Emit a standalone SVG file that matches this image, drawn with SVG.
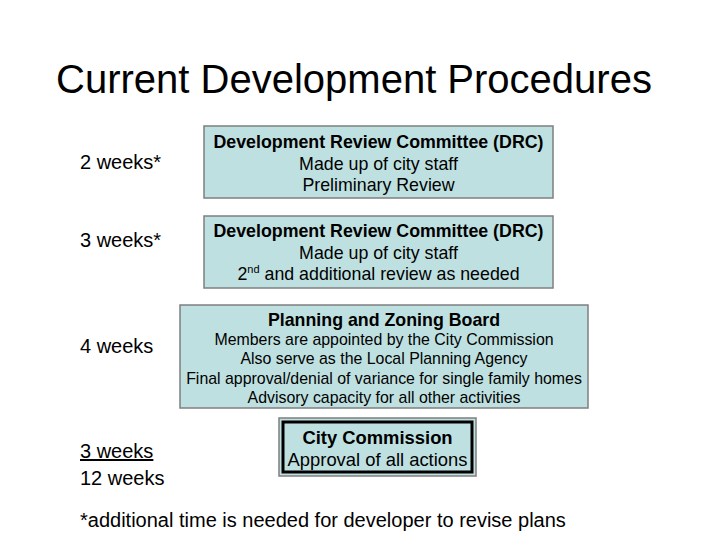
<svg xmlns="http://www.w3.org/2000/svg" width="720" height="540" viewBox="0 0 720 540">
<style>
text{font-family:"Liberation Sans",Arial,sans-serif;fill:#000}
.box{fill:#bfe0e1;stroke:#7f7f7f;stroke-width:1.5}
.lbl{font-size:20px}
.b{font-weight:bold}
.t{font-size:17.8px;text-anchor:middle}
.s{font-size:15.9px;text-anchor:middle}
</style>
<rect width="720" height="540" fill="#fff"/>
<text x="354" y="93" font-size="40" text-anchor="middle">Current Development Procedures</text>
<g id="labels">
<text class="lbl" x="80" y="169">2 weeks*</text>
<text class="lbl" x="80" y="247">3 weeks*</text>
<text class="lbl" x="80" y="353">4 weeks</text>
<text class="lbl" x="80" y="458" text-decoration="underline">3 weeks</text>
<text class="lbl" x="80" y="485">12 weeks</text>
<text class="lbl" x="80" y="527">*additional time is needed for developer to revise plans</text>
</g>
<g id="drc1">
<rect class="box" x="204" y="126" width="349" height="72"/>
<text class="t b" x="378.5" y="148">Development Review Committee (DRC)</text>
<text class="t" x="378.5" y="169.5">Made up of city staff</text>
<text class="t" x="378.5" y="190.5">Preliminary Review</text>
</g>
<g id="drc2">
<rect class="box" x="204" y="216" width="349" height="72"/>
<text class="t b" x="378.5" y="237">Development Review Committee (DRC)</text>
<text class="t" x="378.5" y="259">Made up of city staff</text>
<text class="t" x="378.5" y="280">2<tspan font-size="11" dy="-7">nd</tspan><tspan dy="7"> and additional review as needed</tspan></text>
</g>
<g id="pzb">
<rect class="box" x="180" y="305" width="408" height="103"/>
<text class="t b" x="384" y="325.5">Planning and Zoning Board</text>
<text class="s" x="384" y="344.5">Members are appointed by the City Commission</text>
<text class="s" x="384" y="364">Also serve as the Local Planning Agency</text>
<text class="s" x="384" y="383.5">Final approval/denial of variance for single family homes</text>
<text class="s" x="384" y="402.5">Advisory capacity for all other activities</text>
</g>
<g id="cc">
<rect x="279" y="418" width="197" height="58" fill="#bfe0e1" stroke="#7f7f7f" stroke-width="1.5"/>
<rect x="283" y="422" width="189" height="50" fill="none" stroke="#000" stroke-width="3"/>
<text class="b" x="377.5" y="443.5" font-size="18.4" text-anchor="middle">City Commission</text>
<text x="377.5" y="465.5" font-size="18.4" text-anchor="middle">Approval of all actions</text>
</g>
<g id="connectors"/>
</svg>
